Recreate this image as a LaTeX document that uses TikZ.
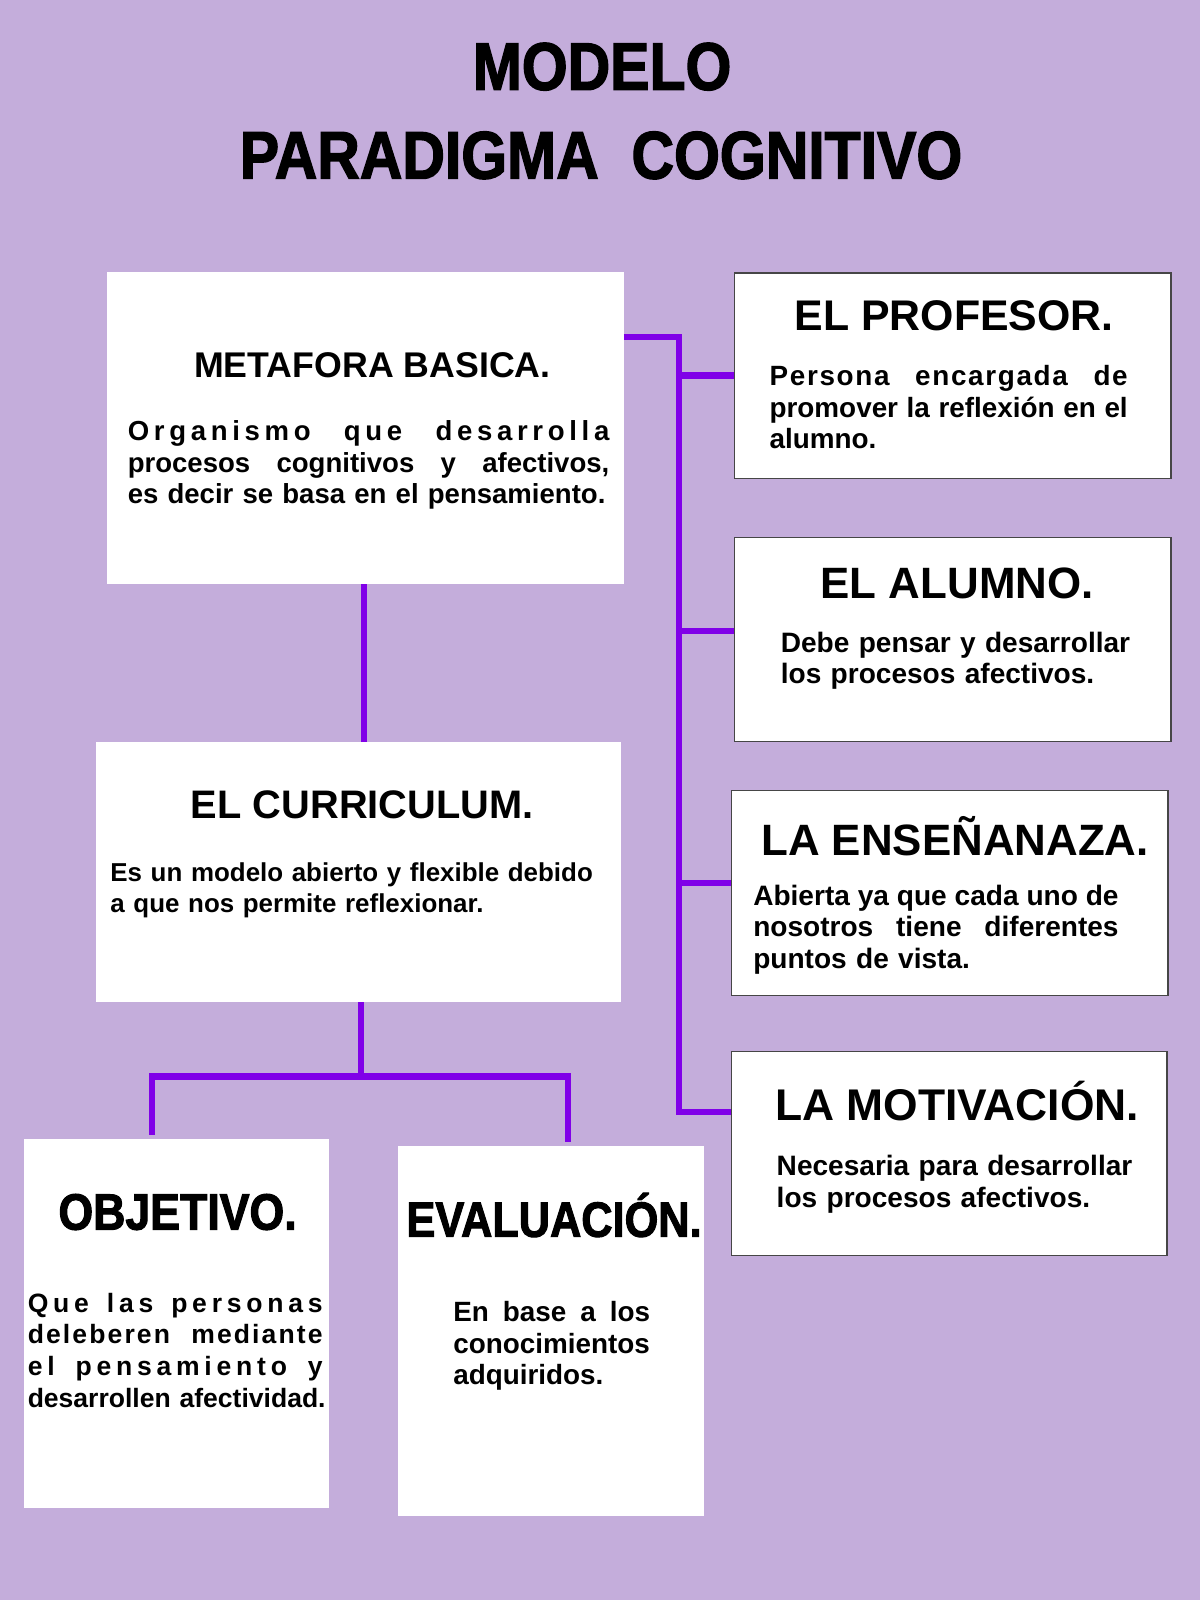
\documentclass[tikz,border=0pt]{standalone}
\usepackage{fontspec}
\setmainfont{Liberation Sans}
\newfontfamily\titlefont{Liberation Sans}[FakeBold=2,FakeStretch=0.875]
\definecolor{lila}{RGB}{196,173,219}
\definecolor{violeta}{RGB}{128,0,232}
\definecolor{borde}{RGB}{70,70,70}
\newcommand{\jl}[2]{\leavevmode\hbox to #1{#2}}
\newcommand{\jls}[3]{\leavevmode\hbox to #1{\addfontfeature{LetterSpace=#2}#3}}
\tikzset{
  box/.style={fill=white, anchor=north west, inner sep=0pt},
  framed/.style={box, draw=borde, line width=1.2pt},
  conn/.style={violeta, line width=6pt, line join=miter},
  head/.style={anchor=base, inner sep=0pt, font=\bfseries\fontsize{#1}{#1}\selectfont},
  heavy/.style={anchor=base, inner sep=0pt, font=\titlefont\bfseries\fontsize{#1}{#1}\selectfont},
  body/.style={anchor=north west, inner sep=0pt, align=left, text width=520pt,
    font=\bfseries\fontsize{#1}{31}\selectfont},
}
\begin{document}
\begin{tikzpicture}[x=1pt, y=-1pt]
    \useasboundingbox (0,0) rectangle (1176,1568);
    \fill[lila] (0,0) rectangle (1176,1568);

    % title
    \node[heavy=66] (tit1) at (590,88) {MODELO};
    \node[heavy=66] (tit2) at (589,175) {PARADIGMA\ \ COGNITIVO};

    % boxes on the left
    \node[box, minimum width=506pt, minimum height=306pt] (meta) at (105,266) {};
    \node[box, minimum width=514pt, minimum height=255pt] (curr) at (94,727) {};
    \node[box, minimum width=299pt, minimum height=362pt] (obj) at (23,1116) {};
    \node[box, minimum width=300pt, minimum height=362pt] (eval) at (390,1123) {};

    % boxes on the right
    \node[framed, minimum width=428pt, minimum height=201pt] (prof) at (719,267) {};
    \node[framed, minimum width=428pt, minimum height=200pt] (alum) at (719,526) {};
    \node[framed, minimum width=428pt, minimum height=201pt] (ense) at (716,774) {};
    \node[framed, minimum width=427pt, minimum height=200pt] (moti) at (716,1030) {};

    % headings
    \node[head=35] (metahd) at (365,370) {METAFORA BASICA.};
    \node[head=39] (currhd) at (355,802) {EL CURRICULUM.};
    \node[heavy=50] (objhd) at (174,1205) {OBJETIVO.};
    \node[heavy=48.5] (evalhd) at (543,1212) {EVALUACIÓN.};
    \node[head=42] (profhd) at (935,324) {EL PROFESOR.};
    \node[head=43] (alumhd) at (938,587) {EL ALUMNO.};
    \node[head=43] (ensehd) at (936,838) {LA ENSEÑANAZA.};
    \node[head=43.5] (motihd) at (938,1098) {LA MOTIVACIÓN.};

    % texts
    \node[body=27] (metatx) at (125,412) {\jls{472pt}{17}{Organismo\hfill que\hfill desarrolla}\\\jl{472pt}{procesos\hfill cognitivos\hfill y\hfill afectivos,}\\es decir se basa en el pensamiento.};
    \node[body=25.4] (currtx) at (108,845) {Es un modelo abierto y flexible debido\\a que nos permite reflexionar.};
    \node[body=26] (objtx) at (27,1267) {\jls{289pt}{18}{Que\hfill las\hfill personas}\\\jls{289pt}{8}{deleberen\hfill mediante}\\\jls{289pt}{18}{el\hfill pensamiento\hfill y}\\desarrollen afectividad.};
    \node[body=27.3] (evaltx) at (444,1275) {\jl{193pt}{En\hfill base\hfill a\hfill los}\\conocimientos\\adquiridos.};
    \node[body=27.3] (proftx) at (754,358) {\jls{351pt}{6}{Persona\hfill encargada\hfill de}\\\jl{351pt}{promover\hfill la\hfill reflexión\hfill en\hfill el}\\alumno.};
    \node[body=27.5] (alumtx) at (765,619) {Debe pensar y desarrollar\\los procesos afectivos.};
    \node[body=27.5] (ensetx) at (738,867) {\jl{358pt}{Abierta\hfill ya\hfill que\hfill cada\hfill uno\hfill de}\\\jl{358pt}{nosotros\hfill tiene\hfill diferentes}\\puntos de vista.};
    \node[body=27.5] (motitx) at (761,1132) {Necesaria para desarrollar\\los procesos afectivos.};

    % connectors
    \coordinate (bt) at (665,330);
    \coordinate (bb) at (665,1090);
    \draw[conn] (meta.east |- bt) -- (bt) -- (bb) -- (moti.west |- bb);
    \coordinate (j1) at (665,368);
    \coordinate (j2) at (665,618);
    \coordinate (j3) at (665,865);
    \foreach \j/\n in {j1/prof, j2/alum, j3/ense}
        \draw[conn] (\j) -- (\n.west |- \j);

    \coordinate (sp) at (354,1055);
    \coordinate (sl) at (149,1055);
    \coordinate (sr) at (557,1055);
    \draw[conn] (meta.south -| 357,0) -- (curr.north -| 357,0);
    \draw[conn] (curr.south -| sp) -- (sp);
    \draw[conn] (sl |- obj.north) ++(0,-4) -- (sl) -- (sr) -- ([yshift=4pt]sr |- eval.north);
\end{tikzpicture}
\end{document}
